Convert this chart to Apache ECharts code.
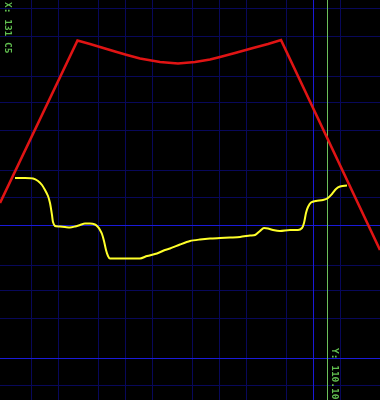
<!DOCTYPE html>
<html>
<head>
<meta charset="utf-8">
<script src="https://cdn.jsdelivr.net/npm/echarts@6/dist/echarts.min.js"></script>
<style>
html,body{margin:0;padding:0;background:#000;}
#chart{width:380px;height:400px;}
</style>
</head>
<body>
<div id="chart"></div>
<script>
var redX = [0, 77.5, 90, 100, 115, 127, 140, 160, 178, 195, 210, 220, 235, 253, 268, 281, 380];
var redY = [197, 359.5, 356, 353, 348.5, 345, 341.5, 338, 336.5, 338, 340.5, 343, 347, 352, 356, 360, 150];

var yellowX = [15, 25, 33, 38, 42, 45, 48, 50, 52, 53, 55, 60, 65, 70, 75, 80, 85, 90, 95, 98, 100, 102, 104, 106, 108, 110, 115, 120, 130, 140, 147, 157, 165, 170, 180, 190, 200, 210, 220, 230, 240, 250, 255, 260, 264, 268, 273, 280, 290, 298, 302, 304, 306, 308, 311, 316, 323, 328, 332, 336, 340, 347];
var yellowY = [222, 222, 221.5, 219, 215, 210, 204, 197, 185, 178, 174, 173.5, 173, 172.5, 173.5, 175, 176.5, 176.5, 175.5, 173, 170, 166, 159, 150, 144, 141.5, 141.5, 141.5, 141.5, 141.5, 144, 146.5, 150, 151.5, 155.5, 159, 160.5, 161.5, 162, 162.5, 163, 164.5, 165, 169, 172, 171.5, 170, 169, 170, 170, 172, 177, 187, 193, 197.5, 199, 200, 202, 206, 211, 213.5, 214.5];

// Graticule positions
var gridXFaint = [31.5, 58.5, 98.5, 125.5, 152.5, 192.5, 219.5, 246.5, 286.5, 340.5];
var gridXBright = [313.5];
var gridYFaint = [391.5, 363.5, 323.5, 297.5, 269.5, 229.5, 202.5, 134.5, 109.5, 81.5, 14.5];
var gridYBright = [174.5, 41.5];
var cursorX = [327.5];

var labelX = 'X: 131 C5';
var labelY = 'Y: 110.10';

var X_MIN = 0, X_MAX = 380, Y_MIN = 0, Y_MAX = 400;

function zip(xs, ys){ return xs.map(function(x,i){ return [x, ys[i]]; }); }
function vSegs(arr){ return arr.map(function(v){ return {coords: [[v, Y_MIN], [v, Y_MAX]]}; }); }
function hSegs(arr){ return arr.map(function(v){ return {coords: [[X_MIN, v], [X_MAX, v]]}; }); }

function gridSeries(data, color, z){
  return {
    type: 'lines', coordinateSystem: 'cartesian2d', polyline: false,
    silent: true, z: z, animation: false, symbol: ['none','none'],
    lineStyle: {color: color, width: 1, opacity: 1, type: 'solid', curveness: 0},
    effect: {show: false},
    data: data
  };
}

var chart = echarts.init(document.getElementById('chart'), null, {renderer:'canvas'});

chart.setOption({
  backgroundColor: '#000000',
  animation: false,
  grid: {left: 0, right: 0, top: 0, bottom: 0, containLabel: false},
  xAxis: {type: 'value', min: X_MIN, max: X_MAX, show: false, splitLine: {show: false}},
  yAxis: {type: 'value', min: Y_MIN, max: Y_MAX, show: false, splitLine: {show: false}},
  series: [
    gridSeries(vSegs(gridXFaint).concat(hSegs(gridYFaint)), '#08085a', 1),
    gridSeries(vSegs(gridXBright).concat(hSegs(gridYBright)), '#1a1ad8', 2),
    gridSeries(vSegs(cursorX), '#6cc05a', 3),
    {
      type: 'line', data: zip(redX, redY), smooth: false, showSymbol: false, z: 5,
      lineStyle: {color: '#e01414', width: 2.6, join: 'miter'}, silent: true
    },
    {
      type: 'line', data: zip(yellowX, yellowY), smooth: 0.25, showSymbol: false, z: 6,
      lineStyle: {color: '#ffff2a', width: 2}, silent: true
    }
  ],
  graphic: [
    {type: 'text', x: 7.5, y: 2, rotation: -Math.PI/2, z: 10,
     style: {text: labelX, fill: '#62c050', font: 'bold 9.5px "DejaVu Sans Mono"', textAlign: 'left', textVerticalAlign: 'middle'}},
    {type: 'text', x: 334, y: 348, rotation: -Math.PI/2, z: 10,
     style: {text: labelY, fill: '#62c050', font: 'bold 9.5px "DejaVu Sans Mono"', textAlign: 'left', textVerticalAlign: 'middle'}}
  ]
});
</script>
</body>
</html>
